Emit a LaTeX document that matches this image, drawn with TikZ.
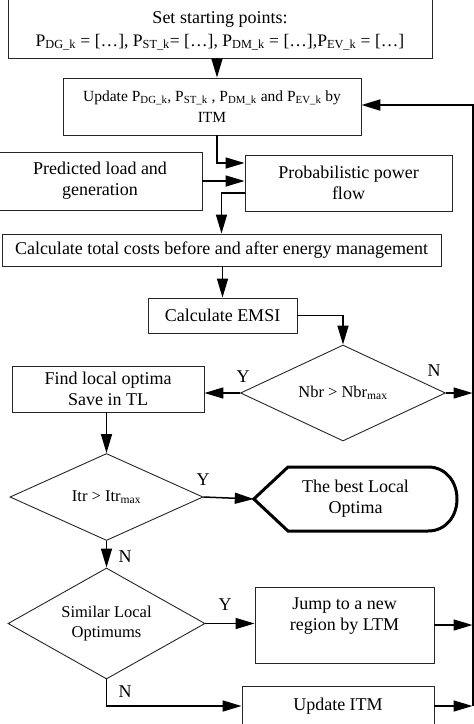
\documentclass[tikz,border=0pt]{standalone}
\usepackage{fontspec}
\setmainfont{Liberation Serif}
\usetikzlibrary{arrows.meta,shapes.geometric}
\begin{document}
\begin{tikzpicture}[x=1pt,y=-1pt]
\tikzset{
 box/.style={draw=black!85, line width=0.9pt, inner sep=2pt, align=center, font=\fontsize{18}{21}\selectfont},
 txt/.style={inner sep=0pt, align=center, font=\fontsize{18}{21}\selectfont},
 dia/.style={draw=black!85, line width=0.9pt, shape=diamond, aspect=2.2, inner sep=0pt, align=center, font=\fontsize{16.5}{20}\selectfont},
 arr/.style={draw=black, line width=1.5pt, -{Triangle[length=19pt,width=11pt]}},
 fb/.style={draw=black, line width=2pt},
 yn/.style={inner sep=0pt, font=\fontsize{18}{20}\selectfont}
}
\useasboundingbox (0,0) rectangle (474,724);
\clip (0,0) rectangle (474,724);
% boxes
\node[box, minimum width=424pt, minimum height=66pt] (start) at (220,25) {};
\node[txt, font=\fontsize{18}{23}\selectfont] (startt) at (220,31)
  {Set starting points:\\ {\fontsize{17.6}{23}\selectfont P\textsubscript{DG\_k} = […], P\textsubscript{ST\_k}= […], P\textsubscript{DM\_k} = […],P\textsubscript{EV\_k} = […]}};
\node[box, minimum width=298pt, minimum height=57pt, font=\fontsize{15.5}{21}\selectfont] (upd2) at (212,106.5)
  {Update P\textsubscript{DG\_k}, P\textsubscript{ST\_k} , P\textsubscript{DM\_k} and P\textsubscript{EV\_k} by\\ITM};
\node[box, minimum width=204pt, minimum height=58pt] (pred) at (100,181)
  {Predicted load and\\generation};
\node[box, minimum width=207pt, minimum height=56pt] (ppf) at (348.5,183)
  {Probabilistic power\\flow};
\node[box, minimum width=439pt, minimum height=32pt] (calc) at (221.5,250)
  {Calculate total costs before and after energy management};
\node[box, minimum width=149pt, minimum height=35pt] (emsi) at (222.5,315.5)
  {Calculate EMSI};
\node[dia, minimum width=205pt, minimum height=96pt] (d1) at (343,393)
  {Nbr > Nbr\textsubscript{max}};
\node[box, minimum width=192pt, minimum height=46pt] (find) at (108,389)
  {Find local optima\\Save in TL};
\node[dia, minimum width=193pt, minimum height=87pt] (d2) at (106.5,497)
  {Itr > Itr\textsubscript{max}};
\node[txt, minimum width=203pt, minimum height=64pt] (best) at (355.5,499)
  {The best Local\\Optima};
\draw[line width=3pt] (best.west) -- (288,467) -- (428,467)
  .. controls (446,467) and (457,482) .. (457,499)
  .. controls (457,516) and (446,531) .. (428,531) -- (288,531) -- cycle;
\node[dia, minimum width=197pt, minimum height=111pt] (d3) at (106.5,623.5)
  {Similar Local\\Optimums};
\node[box, minimum width=179pt, minimum height=76pt] (jump) at (344.5,625) {};
\node[txt] (jumpt) at (344.5,616.5) {Jump to a new\\region by LTM};
\node[box, minimum width=192pt, minimum height=40pt] (upd) at (338,706) {Update ITM};
% feedback line
\coordinate (fbtop) at (472.5,105);
\coordinate (fbbot) at (472.5,706);
\draw[fb, -{Triangle[length=19pt,width=11pt]}] (fbbot) -- (fbtop) -- (fbtop -| upd2.east);
% connectors
\draw[arr] ([xshift=-3pt]start.south) -- ([xshift=-3pt]start.south |- upd2.north);
\draw[arr] ([xshift=5pt]upd2.south) |- ([yshift=20pt]ppf.west);
\draw[arr] (pred.east) -- (pred.east -| ppf.west);
\draw[arr] ([yshift=-10pt]ppf.west) -| (calc.north);
\draw[arr] (calc.south -| emsi.north) -- (emsi.north);
\draw[arr] (emsi.east) -| (d1.north);
\draw[arr] (d1.west) -- (d1.west -| find.east);
\draw[arr] (d1.east) -- (d1.east -| fbtop);
\draw[arr] (find.south -| d2.north) -- (d2.north);
\draw[arr] (d2.east) -- (best.west);
\draw[arr] (d2.south) -- (d3.north);
\draw[arr] (d3.east) -- (d3.east -| jump.west);
\draw[arr] (d3.south) |- (upd.west);
\draw[arr] (jump.east) -- (jump.east -| fbbot);
\draw[arr] (upd.east) -- (fbbot);
% labels
\node[yn] (ly1) at (243,377) {Y};
\node[yn] (ln1) at (434,371) {N};
\node[yn] (ly2) at (203,480) {Y};
\node[yn] (ln2) at (125,557) {N};
\node[yn] (ly3) at (225,605) {Y};
\node[yn] (ln3) at (125,692) {N};
\end{tikzpicture}
\end{document}
